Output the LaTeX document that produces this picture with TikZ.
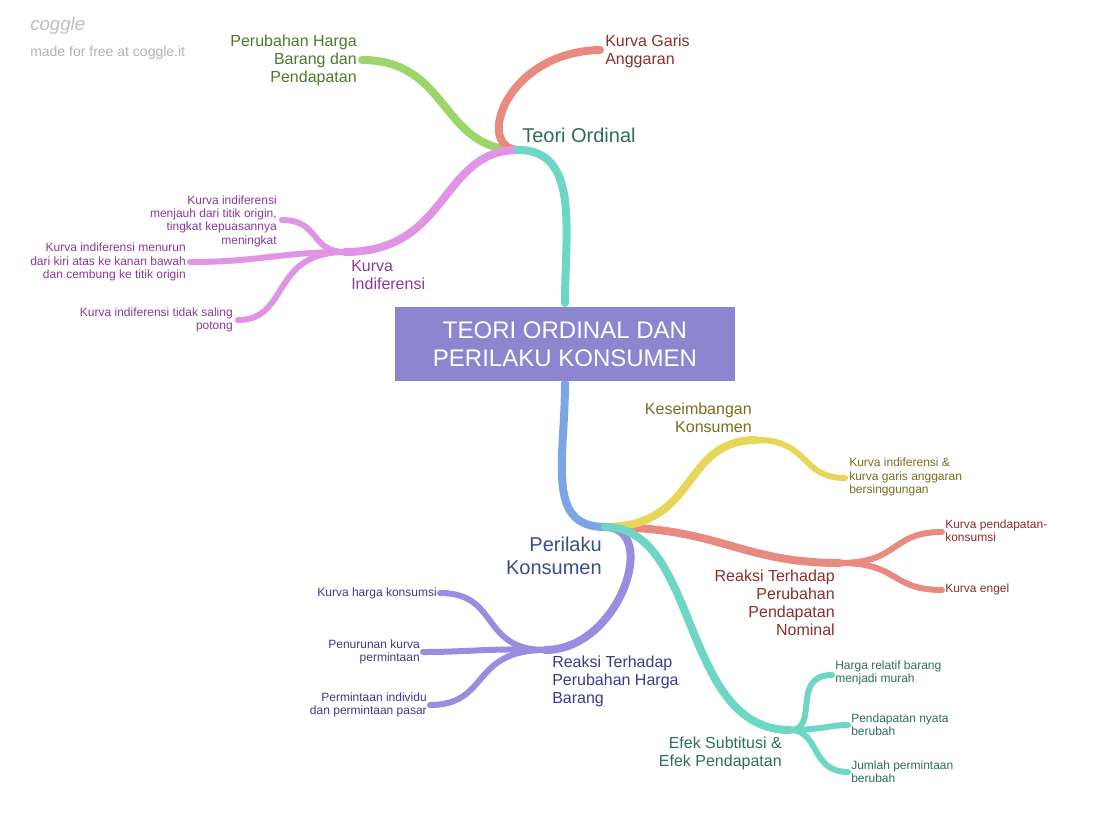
\documentclass[tikz,border=0pt]{standalone}
\usepackage{fontspec}
\setmainfont{Liberation Sans}
\definecolor{cteal}{HTML}{6DD6C4}
\definecolor{cgreen}{HTML}{9CD66A}
\definecolor{cred}{HTML}{E88A80}
\definecolor{cpink}{HTML}{E094E6}
\definecolor{cblue}{HTML}{7BA5E6}
\definecolor{cyel}{HTML}{E8D65A}
\definecolor{cpur}{HTML}{9A8CE0}
\definecolor{ccen}{HTML}{8E85D0}
\definecolor{tteal}{HTML}{2E6E5E}
\definecolor{tgreen}{HTML}{4E7A2A}
\definecolor{tred}{HTML}{8B2F2A}
\definecolor{tpink}{HTML}{8A3A9A}
\definecolor{tblue}{HTML}{3A4E8A}
\definecolor{tyel}{HTML}{7A6E20}
\definecolor{tpur}{HTML}{3E3A8A}
\tikzset{
 br/.style={line width=6pt,line cap=round},
 sb/.style={line width=4.5pt,line cap=round},
 big/.style={font=\fontsize{15}{17}\selectfont,align=left,inner sep=0},
 med/.style={font=\fontsize{12}{13.5}\selectfont,inner sep=0},
 sm/.style={font=\fontsize{9}{10}\selectfont,inner sep=0},
}
\begin{document}
\begin{tikzpicture}[x=0.75pt,y=-0.75pt]
\useasboundingbox (0,0) rectangle (1110,822);
\fill[white] (0,0) rectangle (1110,822);
% coordinates
\coordinate (ct) at (565,303); \coordinate (cb) at (565,383);
\coordinate (to) at (518,150); \coordinate (pk) at (605,527);
\coordinate (ki) at (345,252); \coordinate (rh) at (545,650);
\coordinate (rp) at (840,563); \coordinate (ks) at (757,440);
\coordinate (ef) at (790,730);
\coordinate (e1) at (362,60); \coordinate (e2) at (600,50);
\coordinate (k1) at (282,220); \coordinate (k2) at (190,262); \coordinate (k3) at (238,320);
\coordinate (s1) at (845,478);
\coordinate (p1) at (942,532); \coordinate (p2) at (942,590);
\coordinate (h1) at (440,593); \coordinate (h2) at (423,652); \coordinate (h3) at (430,705);
\coordinate (f1) at (832,675); \coordinate (f2) at (848,725); \coordinate (f3) at (848,772);
% branches
\draw[br,cgreen] (to) .. controls (440,150) and (450,60) .. (e1);
\draw[br,cred] (to) .. controls (475,148) and (505,52) .. (e2);
\draw[br,cpink] (to) .. controls (440,150) and (450,252) .. (ki);
\draw[br,cteal] (ct) .. controls (565,230) and (580,150) .. (to);
\draw[sb,cpink] (ki) .. controls (310,252) and (320,220) .. (k1);
\draw[sb,cpink] (ki) .. controls (280,252) and (260,262) .. (k2);
\draw[sb,cpink] (ki) .. controls (270,252) and (290,320) .. (k3);
\draw[br,cblue] (cb) .. controls (565,460) and (545,527) .. (pk);
\draw[br,cred] (pk) .. controls (720,527) and (740,563) .. (rp);
\draw[sb,cred] (rp) .. controls (900,563) and (890,532) .. (p1);
\draw[sb,cred] (rp) .. controls (900,563) and (890,590) .. (p2);
\draw[br,cyel] (pk) .. controls (700,527) and (680,440) .. (ks);
\draw[sb,cyel] (ks) .. controls (810,440) and (800,478) .. (s1);
\draw[br,cpur] (pk) .. controls (660,527) and (620,650) .. (rh);
\draw[sb,cpur] (rh) .. controls (480,650) and (500,593) .. (h1);
\draw[sb,cpur] (rh) .. controls (490,648) and (470,652) .. (h2);
\draw[sb,cpur] (rh) .. controls (470,650) and (490,705) .. (h3);
\draw[br,cteal] (pk) .. controls (700,527) and (680,730) .. (ef);
\draw[sb,cteal] (ef) .. controls (820,730) and (790,675) .. (f1);
\draw[sb,cteal] (ef) .. controls (820,730) and (830,725) .. (f2);
\draw[sb,cteal] (ef) .. controls (820,730) and (810,772) .. (f3);
% center
\node[fill=ccen,minimum width=255pt,minimum height=55pt,text=white,align=center,
 font=\fontsize{18}{21}\selectfont] (c) at (565,344) {TEORI ORDINAL DAN\\PERILAKU KONSUMEN};
% texts
\node[anchor=west,text=gray!50,font=\itshape\fontsize{14}{16}\selectfont,inner sep=0] (lg) at (30,26) {coggle};
\node[anchor=west,text=gray!60,font=\fontsize{10.5}{12}\selectfont,inner sep=0] (mf) at (30,53) {made for free at coggle.it};
\node[anchor=west,text=tteal,font=\fontsize{15}{17}\selectfont,inner sep=0] (tt) at (522,135) {Teori Ordinal};
\node[med,anchor=east,align=right,text=tgreen] (te1) at (357,60) {Perubahan Harga\\Barang dan\\Pendapatan};
\node[med,anchor=west,align=left,text=tred] (te2) at (605,51) {Kurva Garis\\Anggaran};
\node[med,anchor=west,align=left,text=tpink] (tki) at (351,275) {Kurva\\Indiferensi};
\node[sm,anchor=east,align=right,text=tpink] (tk1) at (277,221) {Kurva indiferensi\\menjauh dari titik origin,\\tingkat kepuasannya\\meningkat};
\node[sm,anchor=east,align=right,text=tpink] (tk2) at (186,262) {Kurva indiferensi menurun\\dari kiri atas ke kanan bawah\\dan cembung ke titik origin};
\node[sm,anchor=east,align=right,text=tpink] (tk3) at (233,320) {Kurva indiferensi tidak saling\\potong};
\node[anchor=east,align=right,text=tblue,font=\fontsize{15}{17.5}\selectfont,inner sep=0] (tpk) at (602,556) {Perilaku\\Konsumen};
\node[med,anchor=east,align=right,text=tyel] (tks) at (752,418) {Keseimbangan\\Konsumen};
\node[sm,anchor=west,align=left,text=tyel] (ts1) at (849,477) {Kurva indiferensi \&\\kurva garis anggaran\\bersinggungan};
\node[med,anchor=east,align=right,text=tred] (trp) at (835,603) {Reaksi Terhadap\\Perubahan\\Pendapatan\\Nominal};
\node[sm,anchor=west,align=left,text=tred] (tp1) at (945,531) {Kurva pendapatan-\\konsumsi};
\node[sm,anchor=west,align=left,text=tred] (tp2) at (945,589) {Kurva engel};
\node[med,anchor=west,align=left,text=tpur] (trh) at (552,681) {Reaksi Terhadap\\Perubahan Harga\\Barang};
\node[sm,anchor=east,align=right,text=tpur] (th1) at (437,593) {Kurva harga konsumsi};
\node[sm,anchor=east,align=right,text=tpur] (th2) at (420,652) {Penurunan kurva\\permintaan};
\node[sm,anchor=east,align=right,text=tpur] (th3) at (427,705) {Permintaan individu\\dan permintaan pasar};
\node[med,anchor=east,align=right,text=tteal] (tef) at (782,753) {Efek Subtitusi \&\\Efek Pendapatan};
\node[sm,anchor=west,align=left,text=tteal] (tf1) at (835,673) {Harga relatif barang\\menjadi murah};
\node[sm,anchor=west,align=left,text=tteal] (tf2) at (851,725) {Pendapatan nyata\\berubah};
\node[sm,anchor=west,align=left,text=tteal] (tf3) at (851,772) {Jumlah permintaan\\berubah};
\end{tikzpicture}
\end{document}
